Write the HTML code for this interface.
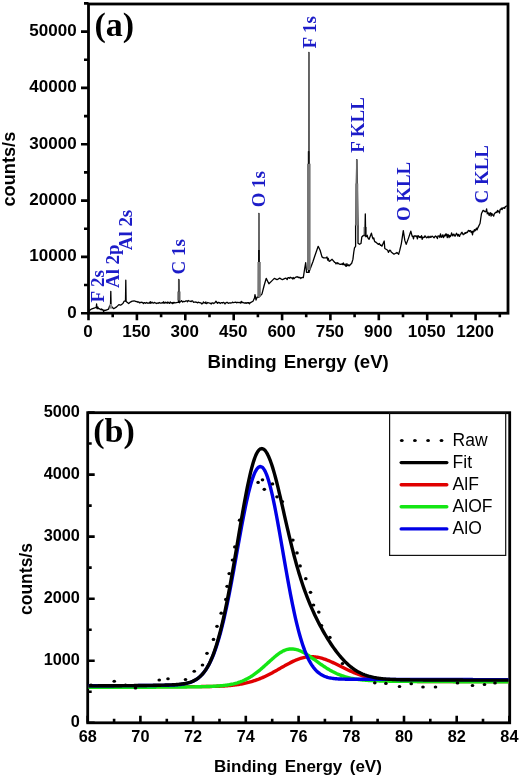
<!DOCTYPE html>
<html><head><meta charset="utf-8"><style>
html,body{margin:0;padding:0;background:#fff;}
svg{display:block;}
.ta{font-family:"Liberation Sans",Arial,sans-serif;font-weight:bold;font-size:17px;}
.tb{font-family:"Liberation Sans",Arial,sans-serif;font-weight:bold;font-size:16.3px;}
.tta{font-family:"Liberation Sans",Arial,sans-serif;font-weight:bold;font-size:18.6px;word-spacing:1.8px;}
.tta2{font-family:"Liberation Sans",Arial,sans-serif;font-weight:bold;font-size:18.2px;}
.ttb2{font-family:"Liberation Sans",Arial,sans-serif;font-weight:bold;font-size:17.5px;}
.ttb{font-family:"Liberation Sans",Arial,sans-serif;font-weight:bold;font-size:17px;word-spacing:2.7px;}
.lab{font-family:"Liberation Serif","Times New Roman",serif;font-weight:bold;font-size:34px;}
.pl{font-family:"Liberation Serif","Times New Roman",serif;font-weight:bold;font-size:18px;fill:#1c1cc8;}
.lg{font-family:"Liberation Sans",Arial,sans-serif;font-size:17.5px;}
</style></head><body>
<svg width="520" height="778" viewBox="0 0 520 778">
<rect x="88.5" y="4.0" width="419.5" height="309.2" fill="none" stroke="#000" stroke-width="2.8"/>
<path d="M81.0,313.2H88.5M84.0,285.0H88.5M81.0,256.9H88.5M84.0,228.7H88.5M81.0,200.6H88.5M84.0,172.4H88.5M81.0,144.2H88.5M84.0,116.1H88.5M81.0,87.9H88.5M84.0,59.8H88.5M81.0,31.6H88.5M84.0,3.4H88.5M88.5,313.2V320.2M112.7,313.2V317.2M136.9,313.2V320.2M161.1,313.2V317.2M185.3,313.2V320.2M209.5,313.2V317.2M233.7,313.2V320.2M257.9,313.2V317.2M282.1,313.2V320.2M306.2,313.2V317.2M330.4,313.2V320.2M354.6,313.2V317.2M378.8,313.2V320.2M403.0,313.2V317.2M427.2,313.2V320.2M451.4,313.2V317.2M475.6,313.2V320.2M499.8,313.2V317.2" stroke="#000" stroke-width="2.6" fill="none"/>
<text class="ta" x="76.6" y="317.5" text-anchor="end">0</text>
<text class="ta" x="76.6" y="261.2" text-anchor="end">10000</text>
<text class="ta" x="76.6" y="204.9" text-anchor="end">20000</text>
<text class="ta" x="76.6" y="148.5" text-anchor="end">30000</text>
<text class="ta" x="76.6" y="92.2" text-anchor="end">40000</text>
<text class="ta" x="76.6" y="35.9" text-anchor="end">50000</text>
<text class="ta" x="88.0" y="336.5" text-anchor="middle">0</text>
<text class="ta" x="136.4" y="336.5" text-anchor="middle">150</text>
<text class="ta" x="184.8" y="336.5" text-anchor="middle">300</text>
<text class="ta" x="233.2" y="336.5" text-anchor="middle">450</text>
<text class="ta" x="281.6" y="336.5" text-anchor="middle">600</text>
<text class="ta" x="329.9" y="336.5" text-anchor="middle">750</text>
<text class="ta" x="378.3" y="336.5" text-anchor="middle">900</text>
<text class="ta" x="426.7" y="336.5" text-anchor="middle">1050</text>
<text class="ta" x="475.1" y="336.5" text-anchor="middle">1200</text>
<text class="tta" x="207.5" y="368.2">Binding Energy (eV)</text>
<text class="tta2" transform="translate(15.2,206.5) rotate(-90)">counts/s</text>
<text class="lab" x="94.5" y="36.3">(a)</text>
<path d="M88.5,311.5 L89.5,310.4 L91.2,309.2 L94.1,308.1 L95.8,307.5 L96.2,307.5 L96.6,304.0 L96.9,307.5 L96.6,307.5 L97.2,308.7 L97.9,307.0 L98.5,308.7 L99.1,308.6 L99.7,308.9 L100.4,309.4 L101.0,309.8 L101.7,309.0 L102.3,309.9 L103.0,309.7 L103.6,311.6 L104.3,310.3 L104.9,310.2 L105.6,310.4 L108.5,309.2 L109.7,305.8 L110.5,305.8 L110.8,291.3 L111.1,305.8 L110.8,305.8 L113.7,308.7 L116.6,306.9 L118.9,304.6 L120.6,305.2 L122.9,303.5 L124.1,301.2 L125.5,301.2 L125.8,280.2 L126.1,301.2 L125.8,301.2 L128.7,303.5 L130.4,302.1 L132.2,301.2 L132.9,301.1 L133.6,301.0 L134.2,300.8 L134.9,301.2 L135.6,301.4 L136.3,301.7 L136.9,301.5 L137.6,302.2 L138.2,301.8 L138.9,302.1 L139.5,302.9 L140.2,302.3 L140.8,302.6 L141.5,302.2 L142.1,302.4 L142.8,302.8 L143.4,303.5 L144.1,302.6 L144.7,302.7 L145.4,303.3 L146.0,302.9 L146.6,302.5 L147.2,302.8 L147.8,303.3 L148.4,303.2 L149.0,302.9 L149.7,303.2 L150.3,301.6 L150.9,303.4 L151.5,302.5 L152.1,302.1 L152.7,303.0 L153.3,303.2 L153.9,302.7 L154.5,302.4 L155.1,302.9 L155.7,302.9 L156.3,303.5 L157.0,303.2 L157.6,303.0 L158.2,303.4 L158.8,302.8 L159.4,302.5 L160.0,302.9 L160.6,303.2 L161.2,303.2 L161.8,302.8 L162.4,302.5 L163.0,303.0 L163.6,301.8 L164.2,303.2 L164.8,303.1 L165.4,302.2 L166.0,302.9 L166.6,302.5 L167.2,303.2 L167.8,302.0 L168.4,302.5 L169.0,303.2 L169.6,303.4 L170.2,301.9 L170.8,302.7 L171.4,303.0 L172.0,302.6 L172.6,303.6 L173.2,302.4 L173.8,303.1 L174.4,302.4 L175.0,302.9 L177.8,302.3 L178.5,302.3 L178.8,279.5 L179.2,302.3 L178.8,302.3 L179.4,302.7 L180.1,301.9 L180.7,301.5 L181.4,300.6 L182.0,301.2 L182.6,302.0 L183.2,301.5 L183.8,301.5 L184.5,301.7 L185.1,301.4 L185.7,300.9 L186.3,300.8 L186.9,300.8 L187.5,301.8 L188.2,300.5 L188.8,300.9 L189.4,301.1 L190.0,301.2 L190.6,301.4 L191.2,301.7 L191.8,300.9 L192.5,300.8 L193.1,301.7 L193.7,302.3 L194.3,302.2 L194.9,302.1 L195.5,302.0 L196.2,302.3 L196.8,302.2 L197.4,302.8 L198.0,302.5 L198.6,302.2 L199.2,302.6 L199.8,302.6 L200.4,302.9 L201.0,302.8 L201.6,303.9 L202.2,303.4 L202.8,303.5 L203.4,301.9 L204.0,302.7 L204.6,302.6 L205.2,303.2 L205.8,301.9 L206.4,303.5 L207.0,303.5 L207.6,302.5 L208.2,302.7 L208.8,302.8 L209.4,303.2 L210.0,303.2 L210.6,303.4 L211.2,304.0 L211.9,302.9 L212.5,303.2 L213.1,302.9 L213.8,303.5 L214.4,303.0 L215.0,302.6 L216.0,301.2 L217.0,302.8 L217.6,303.4 L218.2,302.3 L218.9,302.7 L219.5,302.5 L220.1,303.5 L220.7,303.1 L221.3,302.7 L222.0,302.6 L222.6,303.1 L223.2,302.5 L223.8,302.4 L224.4,303.1 L225.0,304.0 L225.7,302.8 L226.3,302.6 L226.9,302.3 L227.5,302.3 L228.1,303.1 L228.8,303.3 L229.4,302.9 L230.0,302.9 L230.6,303.0 L231.2,302.9 L231.9,302.8 L232.5,302.1 L233.1,302.5 L233.8,302.7 L234.4,302.3 L235.0,302.4 L235.6,302.2 L236.2,302.4 L236.9,302.9 L237.5,302.3 L238.1,302.3 L238.8,302.7 L239.4,302.6 L240.0,302.3 L240.6,303.1 L241.2,301.4 L241.9,302.8 L242.5,302.2 L243.1,302.5 L243.8,302.9 L244.4,303.0 L245.0,303.1 L245.6,302.7 L246.2,303.4 L246.9,302.6 L247.5,302.7 L248.1,303.1 L248.8,302.6 L249.4,303.8 L250.0,302.9 L253.0,301.2 L254.5,298.0 L255.0,294.6 L256.0,300.0 L257.2,297.0 L258.5,297.0 L258.9,213.5 L259.2,297.0 L258.9,297.0 L261.5,294.6 L262.2,293.2 L264.0,286.0 L266.2,278.4 L268.9,283.8 L271.6,281.1 L274.3,278.4 L277.0,279.7 L279.7,278.1 L282.4,279.7 L285.1,278.4 L286.0,278.1 L286.6,278.8 L287.2,279.6 L287.8,277.9 L288.4,277.6 L289.0,277.9 L289.6,278.3 L290.2,277.2 L290.8,277.6 L291.4,278.0 L292.1,277.8 L292.7,279.0 L293.3,277.5 L294.0,278.8 L294.6,278.1 L295.2,277.5 L295.9,277.1 L296.6,277.1 L297.2,276.6 L297.9,277.4 L298.5,277.1 L299.1,277.9 L299.7,277.3 L300.3,277.7 L300.9,278.5 L301.5,277.6 L302.1,277.6 L302.7,277.3 L303.3,277.6 L304.7,268.5 L305.7,262.7 L306.5,272.3 L308.5,272.3 L308.9,52.4 L309.2,272.3 L308.9,272.3 L312.9,261.7 L314.8,256.0 L318.2,246.3 L320.1,250.2 L322.0,256.9 L323.5,257.9 L326.3,257.9 L327.0,257.0 L327.7,260.0 L328.3,258.3 L329.0,261.2 L329.7,261.3 L332.1,259.3 L334.8,262.5 L335.4,262.7 L336.0,263.9 L336.6,263.0 L337.2,262.6 L337.8,263.8 L338.4,263.2 L339.0,263.7 L339.6,264.1 L340.2,264.3 L340.8,264.2 L341.4,264.3 L342.1,263.8 L342.7,264.5 L343.3,262.9 L343.9,264.7 L344.5,265.0 L345.1,264.0 L345.7,266.2 L346.3,266.4 L346.9,263.7 L347.5,265.6 L348.1,265.5 L348.7,264.8 L349.3,265.8 L351.7,263.3 L352.9,259.4 L353.8,252.0 L354.5,247.8 L355.6,246.3 L355.6,225.5 L356.8,159.6 L358.0,225.5 L358.0,243.2 L359.5,244.3 L361.0,243.5 L361.8,237.0 L363.3,235.5 L364.9,235.5 L365.3,213.9 L365.7,235.5 L365.3,235.5 L365.9,236.8 L366.6,236.2 L367.2,235.3 L367.8,237.7 L368.5,238.5 L369.1,239.3 L371.4,233.2 L372.6,237.8 L373.2,238.8 L373.8,238.0 L374.5,241.1 L375.1,242.0 L375.7,242.0 L378.5,244.4 L379.2,243.5 L379.9,244.4 L380.5,245.4 L381.2,245.2 L381.9,246.2 L384.2,241.0 L384.8,248.5 L387.7,250.2 L388.4,252.4 L389.1,251.1 L389.8,250.1 L390.5,250.7 L391.2,251.9 L394.0,254.2 L396.9,252.5 L398.7,254.2 L399.8,250.2 L401.3,243.8 L403.3,230.6 L404.8,240.4 L406.2,244.4 L408.5,238.1 L410.8,231.2 L412.2,236.3 L412.8,236.1 L413.5,238.9 L414.1,235.8 L414.8,236.1 L415.4,235.8 L416.1,236.5 L416.8,236.0 L417.4,238.8 L418.1,235.6 L418.8,236.3 L419.5,237.4 L420.1,236.8 L420.8,237.6 L421.5,235.6 L422.2,239.3 L422.8,237.2 L423.5,237.5 L424.2,237.4 L424.8,236.0 L425.5,236.1 L426.1,237.5 L426.8,237.8 L427.4,237.4 L428.1,236.3 L428.8,237.8 L429.4,237.2 L430.1,236.3 L430.7,237.3 L431.4,237.0 L432.0,236.2 L432.7,236.3 L433.4,237.2 L434.1,237.9 L434.8,236.7 L435.5,236.0 L436.2,236.5 L436.8,237.3 L437.4,238.6 L438.0,236.0 L438.6,236.1 L439.2,236.0 L439.9,237.5 L440.5,233.8 L441.1,236.4 L441.7,237.3 L442.3,235.8 L442.9,234.8 L443.5,237.5 L444.2,236.3 L444.8,234.9 L445.4,235.8 L446.0,233.7 L446.6,234.8 L447.3,237.6 L447.9,234.3 L448.5,235.3 L449.1,237.6 L449.7,235.3 L450.3,236.6 L450.9,235.6 L451.6,232.9 L452.2,234.9 L452.8,235.9 L453.4,234.3 L454.0,234.1 L454.6,235.8 L455.2,236.1 L455.8,234.7 L456.5,233.3 L457.1,234.3 L457.7,236.0 L458.3,234.3 L458.9,235.8 L459.6,236.4 L460.2,234.4 L460.8,234.2 L461.4,232.7 L462.0,232.3 L462.6,233.7 L463.2,234.7 L463.9,233.8 L464.5,234.0 L465.1,232.6 L465.7,233.4 L466.3,232.3 L466.9,232.7 L467.5,232.2 L468.1,230.8 L468.8,230.4 L469.4,231.5 L470.0,230.6 L470.6,230.6 L471.2,232.5 L471.9,231.4 L472.5,234.8 L473.1,231.2 L473.8,231.9 L474.4,229.6 L475.1,230.8 L475.7,229.9 L476.4,228.2 L477.0,229.9 L477.7,228.1 L480.0,223.5 L481.5,213.5 L483.1,210.4 L485.4,211.9 L486.0,211.3 L486.6,208.9 L487.3,213.8 L487.9,212.4 L488.5,213.5 L489.2,215.5 L489.8,213.1 L490.5,212.7 L491.1,216.2 L491.8,213.3 L492.4,215.0 L493.1,215.0 L493.7,216.1 L494.3,213.9 L495.0,213.0 L495.6,212.6 L496.2,211.9 L496.9,212.6 L497.5,210.3 L498.2,211.6 L498.8,211.3 L499.5,213.1 L500.1,209.5 L500.8,209.6 L501.5,208.1 L502.1,209.6 L502.8,207.8 L503.4,208.2 L504.1,207.5 L504.7,208.3 L505.4,206.5 L507.0,205.8" fill="none" stroke="#000" stroke-width="1.3" stroke-linejoin="round"/>
<path d="M258.9,213.5V250" stroke="#6a6a6a" stroke-width="1.7"/>
<path d="M309.0,52.4V151.3" stroke="#6a6a6a" stroke-width="1.7"/>
<path d="M356.8,159.6V184.6" stroke="#6a6a6a" stroke-width="1.7"/>
<path d="M178.8,279.5V291.5" stroke="#4a4a4a" stroke-width="1.7"/>
<rect x="257.4" y="262" width="3.4" height="35.0" fill="#767676"/>
<rect x="258.2" y="250" width="1.6" height="12.0" fill="#111"/>
<rect x="307.0" y="163.7" width="3.6" height="106.3" fill="#767676"/>
<rect x="307.8" y="151.3" width="1.6" height="12.4" fill="#111"/>
<rect x="355.2" y="183.5" width="3.1" height="42.0" fill="#7a7a7a"/>
<rect x="363.6" y="227" width="0.9" height="8.5" fill="#555"/>
<rect x="365.9" y="227" width="0.9" height="8.0" fill="#555"/>
<rect x="177.4" y="291.5" width="3.1" height="9.0" fill="#5e5e5e"/>
<rect x="109.6" y="304" width="2.5" height="4.6" fill="#888"/>
<text class="pl" transform="translate(104.2,302.5) rotate(-90) scale(1.05,1)">F 2s</text>
<text class="pl" transform="translate(119.0,288) rotate(-90) scale(1.05,1)">Al 2p</text>
<text class="pl" transform="translate(132.2,250.2) rotate(-90) scale(1.05,1)">Al 2s</text>
<text class="pl" transform="translate(185.4,274.4) rotate(-90) scale(1.05,1)">C 1s</text>
<text class="pl" transform="translate(265.4,207.3) rotate(-90) scale(1.05,1)">O 1s</text>
<text class="pl" transform="translate(315.6,48.5) rotate(-90) scale(1.05,1)">F 1s</text>
<text class="pl" transform="translate(364,152.7) rotate(-90) scale(1.05,1)">F KLL</text>
<text class="pl" transform="translate(410.2,221.1) rotate(-90) scale(1.05,1)">O KLL</text>
<text class="pl" transform="translate(488.2,203.4) rotate(-90) scale(1.05,1)">C KLL</text>
<rect x="87.7" y="412.7" width="422.0" height="310.1" fill="none" stroke="#000" stroke-width="2.8"/>
<path d="M87.7,722.8h7M87.7,691.8h4M87.7,660.7h7M87.7,629.7h4M87.7,598.7h7M87.7,567.6h4M87.7,536.6h7M87.7,505.6h4M87.7,474.6h7M87.7,443.5h4M87.7,412.5h7M87.7,722.8v-7M114.1,722.8v-4M140.4,722.8v-7M166.8,722.8v-4M193.1,722.8v-7M219.5,722.8v-4M245.8,722.8v-7M272.2,722.8v-4M298.6,722.8v-7M324.9,722.8v-4M351.3,722.8v-7M377.6,722.8v-4M404.0,722.8v-7M430.3,722.8v-4M456.7,722.8v-7M483.0,722.8v-4M509.4,722.8v-7" stroke="#000" stroke-width="2.6" fill="none"/>
<text class="tb" x="79.9" y="726.9" text-anchor="end">0</text>
<text class="tb" x="79.9" y="664.9" text-anchor="end">1000</text>
<text class="tb" x="79.9" y="602.8" text-anchor="end">2000</text>
<text class="tb" x="79.9" y="540.8" text-anchor="end">3000</text>
<text class="tb" x="79.9" y="478.7" text-anchor="end">4000</text>
<text class="tb" x="79.9" y="416.6" text-anchor="end">5000</text>
<text class="tb" x="87.7" y="742.2" text-anchor="middle">68</text>
<text class="tb" x="140.4" y="742.2" text-anchor="middle">70</text>
<text class="tb" x="193.1" y="742.2" text-anchor="middle">72</text>
<text class="tb" x="245.8" y="742.2" text-anchor="middle">74</text>
<text class="tb" x="298.6" y="742.2" text-anchor="middle">76</text>
<text class="tb" x="351.3" y="742.2" text-anchor="middle">78</text>
<text class="tb" x="404.0" y="742.2" text-anchor="middle">80</text>
<text class="tb" x="456.7" y="742.2" text-anchor="middle">82</text>
<text class="tb" x="509.4" y="742.2" text-anchor="middle">84</text>
<text class="ttb" x="214.0" y="771.9">Binding Energy (eV)</text>
<text class="ttb2" transform="translate(31.5,615.0) rotate(-90)">counts/s</text>
<text class="lab" x="93.2" y="441.7">(b)</text>
<rect x="389.6" y="412.7" width="116.1" height="142.7" fill="none" stroke="#111" stroke-width="1.2"/>
<ellipse cx="401.8" cy="440.5" rx="1.9" ry="1.5" fill="#000"/>
<ellipse cx="414.9" cy="440.5" rx="1.9" ry="1.5" fill="#000"/>
<ellipse cx="428.1" cy="440.5" rx="1.9" ry="1.5" fill="#000"/>
<ellipse cx="441.5" cy="440.5" rx="1.9" ry="1.5" fill="#000"/>
<text class="lg" x="452.6" y="445.7">Raw</text>
<path d="M401.2,462.6H446.8" stroke="#000" stroke-width="3.4" stroke-linecap="round"/>
<text class="lg" x="452.6" y="467.8">Fit</text>
<path d="M401.2,484.7H446.8" stroke="#e00000" stroke-width="3.4" stroke-linecap="round"/>
<text class="lg" x="452.6" y="489.9">AlF</text>
<path d="M401.2,506.8H446.8" stroke="#14e614" stroke-width="3.4" stroke-linecap="round"/>
<text class="lg" x="452.6" y="512.0">AlOF</text>
<path d="M401.2,528.9H446.8" stroke="#0000e6" stroke-width="3.4" stroke-linecap="round"/>
<text class="lg" x="452.6" y="534.1">AlO</text>
<path d="M88.5,686.65 L89.5,686.65 L90.5,686.65 L91.5,686.65 L92.5,686.65 L93.5,686.65 L94.5,686.65 L95.5,686.65 L96.5,686.65 L97.5,686.65 L98.5,686.65 L99.5,686.65 L100.5,686.65 L101.5,686.65 L102.5,686.65 L103.5,686.65 L104.5,686.65 L105.5,686.65 L106.5,686.65 L107.5,686.65 L108.5,686.65 L109.5,686.65 L110.5,686.65 L111.5,686.65 L112.5,686.65 L113.5,686.65 L114.5,686.65 L115.5,686.65 L116.5,686.65 L117.5,686.65 L118.5,686.65 L119.5,686.65 L120.5,686.65 L121.5,686.65 L122.5,686.65 L123.5,686.65 L124.5,686.65 L125.5,686.65 L126.5,686.65 L127.5,686.65 L128.5,686.65 L129.5,686.65 L130.5,686.65 L131.5,686.65 L132.5,686.65 L133.5,686.65 L134.5,686.65 L135.5,686.65 L136.5,686.65 L137.5,686.65 L138.5,686.65 L139.5,686.65 L140.5,686.65 L141.5,686.65 L142.5,686.65 L143.5,686.65 L144.5,686.65 L145.5,686.65 L146.5,686.65 L147.5,686.65 L148.5,686.65 L149.5,686.65 L150.5,686.65 L151.5,686.65 L152.5,686.65 L153.5,686.65 L154.5,686.65 L155.5,686.65 L156.5,686.65 L157.5,686.65 L158.5,686.65 L159.5,686.65 L160.5,686.65 L161.5,686.65 L162.5,686.65 L163.5,686.65 L164.5,686.65 L165.5,686.65 L166.5,686.65 L167.5,686.65 L168.5,686.65 L169.5,686.65 L170.5,686.65 L171.5,686.65 L172.5,686.65 L173.5,686.64 L174.5,686.64 L175.5,686.64 L176.5,686.64 L177.5,686.64 L178.5,686.64 L179.5,686.64 L180.5,686.64 L181.5,686.64 L182.5,686.64 L183.5,686.64 L184.5,686.64 L185.5,686.64 L186.5,686.63 L187.5,686.63 L188.5,686.63 L189.5,686.63 L190.5,686.63 L191.5,686.62 L192.5,686.62 L193.5,686.62 L194.5,686.61 L195.5,686.61 L196.5,686.60 L197.5,686.60 L198.5,686.59 L199.5,686.59 L200.5,686.58 L201.5,686.57 L202.5,686.56 L203.5,686.55 L204.5,686.54 L205.5,686.53 L206.5,686.52 L207.5,686.50 L208.5,686.49 L209.5,686.47 L210.5,686.45 L211.5,686.43 L212.5,686.41 L213.5,686.38 L214.5,686.36 L215.5,686.33 L216.5,686.30 L217.5,686.26 L218.5,686.22 L219.5,686.18 L220.5,686.14 L221.5,686.09 L222.5,686.04 L223.5,685.99 L224.5,685.93 L225.5,685.86 L226.5,685.79 L227.5,685.72 L228.5,685.64 L229.5,685.56 L230.5,685.47 L231.5,685.37 L232.5,685.26 L233.5,685.15 L234.5,685.04 L235.5,684.91 L236.5,684.78 L237.5,684.63 L238.5,684.48 L239.5,684.33 L240.5,684.16 L241.5,683.98 L242.5,683.79 L243.5,683.59 L244.5,683.38 L245.5,683.16 L246.5,682.93 L247.5,682.69 L248.5,682.44 L249.5,682.17 L250.5,681.89 L251.5,681.60 L252.5,681.30 L253.5,680.98 L254.5,680.66 L255.5,680.32 L256.5,679.96 L257.5,679.60 L258.5,679.22 L259.5,678.82 L260.5,678.42 L261.5,678.00 L262.5,677.57 L263.5,677.13 L264.5,676.67 L265.5,676.21 L266.5,675.73 L267.5,675.24 L268.5,674.74 L269.5,674.23 L270.5,673.71 L271.5,673.18 L272.5,672.65 L273.5,672.10 L274.5,671.55 L275.5,671.00 L276.5,670.43 L277.5,669.87 L278.5,669.30 L279.5,668.73 L280.5,668.15 L281.5,667.58 L282.5,667.01 L283.5,666.44 L284.5,665.87 L285.5,665.31 L286.5,664.76 L287.5,664.21 L288.5,663.67 L289.5,663.14 L290.5,662.63 L291.5,662.12 L292.5,661.63 L293.5,661.16 L294.5,660.71 L295.5,660.27 L296.5,659.85 L297.5,659.46 L298.5,659.09 L299.5,658.74 L300.5,658.41 L301.5,658.12 L302.5,657.84 L303.5,657.60 L304.5,657.38 L305.5,657.19 L306.5,657.03 L307.5,656.90 L308.5,656.80 L309.5,656.73 L310.5,656.69 L311.5,656.68 L312.5,656.71 L313.5,656.76 L314.5,656.84 L315.5,656.95 L316.5,657.08 L317.5,657.25 L318.5,657.44 L319.5,657.66 L320.5,657.90 L321.5,658.17 L322.5,658.46 L323.5,658.77 L324.5,659.11 L325.5,659.46 L326.5,659.83 L327.5,660.22 L328.5,660.63 L329.5,661.05 L330.5,661.48 L331.5,661.93 L332.5,662.39 L333.5,662.85 L334.5,663.33 L335.5,663.81 L336.5,664.30 L337.5,664.79 L338.5,665.28 L339.5,665.78 L340.5,666.28 L341.5,666.78 L342.5,667.28 L343.5,667.77 L344.5,668.26 L345.5,668.75 L346.5,669.24 L347.5,669.71 L348.5,670.18 L349.5,670.65 L350.5,671.10 L351.5,671.55 L352.5,671.98 L353.5,672.41 L354.5,672.83 L355.5,673.24 L356.5,673.63 L357.5,674.02 L358.5,674.39 L359.5,674.75 L360.5,675.10 L361.5,675.44 L362.5,675.77 L363.5,676.08 L364.5,676.38 L365.5,676.68 L366.5,676.95 L367.5,677.22 L368.5,677.48 L369.5,677.72 L370.5,677.95 L371.5,678.18 L372.5,678.39 L373.5,678.59 L374.5,678.78 L375.5,678.96 L376.5,679.13 L377.5,679.29 L378.5,679.44 L379.5,679.59 L380.5,679.72 L381.5,679.85 L382.5,679.97 L383.5,680.08 L384.5,680.19 L385.5,680.29 L386.5,680.38 L387.5,680.47 L388.5,680.55 L389.5,680.62 L390.5,680.69 L391.5,680.76 L392.5,680.82 L393.5,680.87 L394.5,680.93 L395.5,680.97 L396.5,681.02 L397.5,681.06 L398.5,681.10 L399.5,681.13 L400.5,681.16 L401.5,681.19 L402.5,681.22 L403.5,681.24 L404.5,681.27 L405.5,681.29 L406.5,681.30 L407.5,681.32 L408.5,681.34 L409.5,681.35 L410.5,681.36 L411.5,681.38 L412.5,681.39 L413.5,681.40 L414.5,681.41 L415.5,681.41 L416.5,681.42 L417.5,681.43 L418.5,681.43 L419.5,681.44 L420.5,681.44 L421.5,681.45 L422.5,681.45 L423.5,681.45 L424.5,681.46 L425.5,681.46 L426.5,681.46 L427.5,681.46 L428.5,681.47 L429.5,681.47 L430.5,681.47 L431.5,681.47 L432.5,681.47 L433.5,681.47 L434.5,681.47 L435.5,681.47 L436.5,681.48 L437.5,681.48 L438.5,681.48 L439.5,681.48 L440.5,681.48 L441.5,681.48 L442.5,681.48 L443.5,681.48 L444.5,681.48 L445.5,681.48 L446.5,681.48 L447.5,681.48 L448.5,681.48 L449.5,681.48 L450.5,681.48 L451.5,681.48 L452.5,681.48 L453.5,681.48 L454.5,681.48 L455.5,681.48 L456.5,681.48 L457.5,681.48 L458.5,681.48 L459.5,681.48 L460.5,681.48 L461.5,681.48 L462.5,681.48 L463.5,681.48 L464.5,681.48 L465.5,681.48 L466.5,681.48 L467.5,681.48 L468.5,681.48 L469.5,681.48 L470.5,681.48 L471.5,681.48 L472.5,681.48 L473.5,681.48 L474.5,681.48 L475.5,681.48 L476.5,681.48 L477.5,681.48 L478.5,681.48 L479.5,681.48 L480.5,681.48 L481.5,681.48 L482.5,681.48 L483.5,681.48 L484.5,681.48 L485.5,681.48 L486.5,681.48 L487.5,681.48 L488.5,681.48 L489.5,681.48 L490.5,681.48 L491.5,681.48 L492.5,681.48 L493.5,681.48 L494.5,681.48 L495.5,681.48 L496.5,681.48 L497.5,681.48 L498.5,681.48 L499.5,681.48 L500.5,681.48 L501.5,681.48 L502.5,681.48 L503.5,681.48 L504.5,681.48 L505.5,681.48 L506.5,681.48 L507.5,681.48 L508.5,681.48" fill="none" stroke="#e00000" stroke-width="3.4" stroke-linejoin="round"/>
<path d="M88.5,687.38 L89.5,687.38 L90.5,687.38 L91.5,687.37 L92.5,687.37 L93.5,687.37 L94.5,687.37 L95.5,687.37 L96.5,687.36 L97.5,687.36 L98.5,687.36 L99.5,687.36 L100.5,687.36 L101.5,687.36 L102.5,687.35 L103.5,687.35 L104.5,687.35 L105.5,687.35 L106.5,687.34 L107.5,687.34 L108.5,687.34 L109.5,687.34 L110.5,687.34 L111.5,687.33 L112.5,687.33 L113.5,687.33 L114.5,687.33 L115.5,687.32 L116.5,687.32 L117.5,687.32 L118.5,687.32 L119.5,687.31 L120.5,687.31 L121.5,687.31 L122.5,687.31 L123.5,687.30 L124.5,687.30 L125.5,687.30 L126.5,687.29 L127.5,687.29 L128.5,687.29 L129.5,687.28 L130.5,687.28 L131.5,687.28 L132.5,687.27 L133.5,687.27 L134.5,687.27 L135.5,687.26 L136.5,687.26 L137.5,687.26 L138.5,687.25 L139.5,687.25 L140.5,687.25 L141.5,687.24 L142.5,687.24 L143.5,687.23 L144.5,687.23 L145.5,687.22 L146.5,687.22 L147.5,687.22 L148.5,687.21 L149.5,687.21 L150.5,687.20 L151.5,687.20 L152.5,687.19 L153.5,687.19 L154.5,687.18 L155.5,687.18 L156.5,687.17 L157.5,687.17 L158.5,687.16 L159.5,687.15 L160.5,687.15 L161.5,687.14 L162.5,687.14 L163.5,687.13 L164.5,687.12 L165.5,687.12 L166.5,687.11 L167.5,687.10 L168.5,687.10 L169.5,687.09 L170.5,687.08 L171.5,687.08 L172.5,687.07 L173.5,687.06 L174.5,687.05 L175.5,687.04 L176.5,687.03 L177.5,687.03 L178.5,687.02 L179.5,687.01 L180.5,687.00 L181.5,686.99 L182.5,686.98 L183.5,686.97 L184.5,686.96 L185.5,686.95 L186.5,686.93 L187.5,686.92 L188.5,686.91 L189.5,686.90 L190.5,686.88 L191.5,686.87 L192.5,686.86 L193.5,686.84 L194.5,686.83 L195.5,686.81 L196.5,686.79 L197.5,686.78 L198.5,686.76 L199.5,686.74 L200.5,686.72 L201.5,686.69 L202.5,686.67 L203.5,686.65 L204.5,686.62 L205.5,686.59 L206.5,686.56 L207.5,686.53 L208.5,686.50 L209.5,686.46 L210.5,686.42 L211.5,686.38 L212.5,686.33 L213.5,686.28 L214.5,686.23 L215.5,686.17 L216.5,686.11 L217.5,686.05 L218.5,685.97 L219.5,685.90 L220.5,685.81 L221.5,685.72 L222.5,685.62 L223.5,685.51 L224.5,685.40 L225.5,685.27 L226.5,685.14 L227.5,684.99 L228.5,684.83 L229.5,684.66 L230.5,684.48 L231.5,684.28 L232.5,684.07 L233.5,683.85 L234.5,683.60 L235.5,683.34 L236.5,683.06 L237.5,682.77 L238.5,682.45 L239.5,682.11 L240.5,681.75 L241.5,681.37 L242.5,680.97 L243.5,680.54 L244.5,680.09 L245.5,679.61 L246.5,679.11 L247.5,678.59 L248.5,678.04 L249.5,677.46 L250.5,676.86 L251.5,676.23 L252.5,675.58 L253.5,674.90 L254.5,674.20 L255.5,673.47 L256.5,672.72 L257.5,671.94 L258.5,671.15 L259.5,670.33 L260.5,669.50 L261.5,668.65 L262.5,667.78 L263.5,666.90 L264.5,666.01 L265.5,665.11 L266.5,664.21 L267.5,663.29 L268.5,662.38 L269.5,661.47 L270.5,660.56 L271.5,659.67 L272.5,658.78 L273.5,657.91 L274.5,657.05 L275.5,656.22 L276.5,655.42 L277.5,654.64 L278.5,653.90 L279.5,653.20 L280.5,652.54 L281.5,651.93 L282.5,651.36 L283.5,650.85 L284.5,650.40 L285.5,650.00 L286.5,649.67 L287.5,649.40 L288.5,649.19 L289.5,649.06 L290.5,648.98 L291.5,648.95 L292.5,648.98 L293.5,649.06 L294.5,649.20 L295.5,649.38 L296.5,649.62 L297.5,649.90 L298.5,650.23 L299.5,650.60 L300.5,651.02 L301.5,651.47 L302.5,651.96 L303.5,652.49 L304.5,653.04 L305.5,653.63 L306.5,654.24 L307.5,654.87 L308.5,655.52 L309.5,656.19 L310.5,656.88 L311.5,657.58 L312.5,658.29 L313.5,659.00 L314.5,659.72 L315.5,660.45 L316.5,661.17 L317.5,661.89 L318.5,662.61 L319.5,663.33 L320.5,664.04 L321.5,664.74 L322.5,665.43 L323.5,666.11 L324.5,666.77 L325.5,667.43 L326.5,668.07 L327.5,668.69 L328.5,669.30 L329.5,669.89 L330.5,670.46 L331.5,671.02 L332.5,671.56 L333.5,672.07 L334.5,672.57 L335.5,673.05 L336.5,673.52 L337.5,673.96 L338.5,674.38 L339.5,674.79 L340.5,675.18 L341.5,675.55 L342.5,675.90 L343.5,676.23 L344.5,676.55 L345.5,676.85 L346.5,677.13 L347.5,677.40 L348.5,677.66 L349.5,677.90 L350.5,678.12 L351.5,678.34 L352.5,678.53 L353.5,678.72 L354.5,678.90 L355.5,679.06 L356.5,679.22 L357.5,679.36 L358.5,679.50 L359.5,679.63 L360.5,679.74 L361.5,679.85 L362.5,679.96 L363.5,680.05 L364.5,680.14 L365.5,680.22 L366.5,680.30 L367.5,680.37 L368.5,680.44 L369.5,680.50 L370.5,680.56 L371.5,680.62 L372.5,680.67 L373.5,680.72 L374.5,680.76 L375.5,680.80 L376.5,680.84 L377.5,680.88 L378.5,680.91 L379.5,680.94 L380.5,680.97 L381.5,681.00 L382.5,681.03 L383.5,681.05 L384.5,681.08 L385.5,681.10 L386.5,681.12 L387.5,681.14 L388.5,681.16 L389.5,681.18 L390.5,681.20 L391.5,681.21 L392.5,681.23 L393.5,681.24 L394.5,681.26 L395.5,681.27 L396.5,681.29 L397.5,681.30 L398.5,681.31 L399.5,681.32 L400.5,681.33 L401.5,681.35 L402.5,681.36 L403.5,681.37 L404.5,681.38 L405.5,681.39 L406.5,681.40 L407.5,681.41 L408.5,681.42 L409.5,681.43 L410.5,681.43 L411.5,681.44 L412.5,681.45 L413.5,681.46 L414.5,681.47 L415.5,681.47 L416.5,681.48 L417.5,681.49 L418.5,681.50 L419.5,681.50 L420.5,681.51 L421.5,681.52 L422.5,681.52 L423.5,681.53 L424.5,681.54 L425.5,681.54 L426.5,681.55 L427.5,681.56 L428.5,681.56 L429.5,681.57 L430.5,681.57 L431.5,681.58 L432.5,681.58 L433.5,681.59 L434.5,681.59 L435.5,681.60 L436.5,681.60 L437.5,681.61 L438.5,681.61 L439.5,681.62 L440.5,681.62 L441.5,681.63 L442.5,681.63 L443.5,681.64 L444.5,681.64 L445.5,681.65 L446.5,681.65 L447.5,681.65 L448.5,681.66 L449.5,681.66 L450.5,681.67 L451.5,681.67 L452.5,681.67 L453.5,681.68 L454.5,681.68 L455.5,681.68 L456.5,681.69 L457.5,681.69 L458.5,681.69 L459.5,681.70 L460.5,681.70 L461.5,681.70 L462.5,681.71 L463.5,681.71 L464.5,681.71 L465.5,681.72 L466.5,681.72 L467.5,681.72 L468.5,681.72 L469.5,681.73 L470.5,681.73 L471.5,681.73 L472.5,681.74 L473.5,681.74 L474.5,681.74 L475.5,681.74 L476.5,681.75 L477.5,681.75 L478.5,681.75 L479.5,681.75 L480.5,681.76 L481.5,681.76 L482.5,681.76 L483.5,681.76 L484.5,681.76 L485.5,681.77 L486.5,681.77 L487.5,681.77 L488.5,681.77 L489.5,681.77 L490.5,681.78 L491.5,681.78 L492.5,681.78 L493.5,681.78 L494.5,681.78 L495.5,681.79 L496.5,681.79 L497.5,681.79 L498.5,681.79 L499.5,681.79 L500.5,681.80 L501.5,681.80 L502.5,681.80 L503.5,681.80 L504.5,681.80 L505.5,681.80 L506.5,681.81 L507.5,681.81 L508.5,681.81" fill="none" stroke="#14e614" stroke-width="3.4" stroke-linejoin="round"/>
<path d="M88.5,685.74 L89.5,685.74 L90.5,685.74 L91.5,685.74 L92.5,685.73 L93.5,685.73 L94.5,685.73 L95.5,685.73 L96.5,685.73 L97.5,685.72 L98.5,685.72 L99.5,685.72 L100.5,685.72 L101.5,685.71 L102.5,685.71 L103.5,685.71 L104.5,685.71 L105.5,685.70 L106.5,685.70 L107.5,685.70 L108.5,685.69 L109.5,685.69 L110.5,685.69 L111.5,685.68 L112.5,685.68 L113.5,685.68 L114.5,685.67 L115.5,685.67 L116.5,685.67 L117.5,685.66 L118.5,685.66 L119.5,685.66 L120.5,685.65 L121.5,685.65 L122.5,685.65 L123.5,685.64 L124.5,685.64 L125.5,685.63 L126.5,685.63 L127.5,685.63 L128.5,685.62 L129.5,685.62 L130.5,685.61 L131.5,685.61 L132.5,685.60 L133.5,685.60 L134.5,685.59 L135.5,685.59 L136.5,685.58 L137.5,685.58 L138.5,685.57 L139.5,685.56 L140.5,685.56 L141.5,685.55 L142.5,685.55 L143.5,685.54 L144.5,685.53 L145.5,685.53 L146.5,685.52 L147.5,685.51 L148.5,685.51 L149.5,685.50 L150.5,685.49 L151.5,685.48 L152.5,685.47 L153.5,685.46 L154.5,685.45 L155.5,685.44 L156.5,685.43 L157.5,685.42 L158.5,685.41 L159.5,685.40 L160.5,685.38 L161.5,685.37 L162.5,685.35 L163.5,685.33 L164.5,685.31 L165.5,685.29 L166.5,685.27 L167.5,685.24 L168.5,685.21 L169.5,685.18 L170.5,685.15 L171.5,685.11 L172.5,685.06 L173.5,685.01 L174.5,684.96 L175.5,684.90 L176.5,684.83 L177.5,684.75 L178.5,684.66 L179.5,684.57 L180.5,684.46 L181.5,684.33 L182.5,684.19 L183.5,684.04 L184.5,683.86 L185.5,683.67 L186.5,683.45 L187.5,683.20 L188.5,682.93 L189.5,682.63 L190.5,682.29 L191.5,681.91 L192.5,681.49 L193.5,681.03 L194.5,680.52 L195.5,679.95 L196.5,679.33 L197.5,678.64 L198.5,677.88 L199.5,677.06 L200.5,676.15 L201.5,675.16 L202.5,674.08 L203.5,672.90 L204.5,671.62 L205.5,670.23 L206.5,668.73 L207.5,667.11 L208.5,665.37 L209.5,663.49 L210.5,661.47 L211.5,659.31 L212.5,657.00 L213.5,654.54 L214.5,651.91 L215.5,649.13 L216.5,646.18 L217.5,643.06 L218.5,639.77 L219.5,636.31 L220.5,632.68 L221.5,628.87 L222.5,624.89 L223.5,620.74 L224.5,616.43 L225.5,611.96 L226.5,607.33 L227.5,602.55 L228.5,597.63 L229.5,592.59 L230.5,587.42 L231.5,582.14 L232.5,576.78 L233.5,571.33 L234.5,565.82 L235.5,560.26 L236.5,554.67 L237.5,549.07 L238.5,543.49 L239.5,537.93 L240.5,532.43 L241.5,527.00 L242.5,521.66 L243.5,516.45 L244.5,511.38 L245.5,506.48 L246.5,501.76 L247.5,497.26 L248.5,492.98 L249.5,488.97 L250.5,485.23 L251.5,481.78 L252.5,478.65 L253.5,475.84 L254.5,473.39 L255.5,471.29 L256.5,469.56 L257.5,468.22 L258.5,467.26 L259.5,466.70 L260.5,466.53 L261.5,466.78 L262.5,467.47 L263.5,468.58 L264.5,470.12 L265.5,472.07 L266.5,474.41 L267.5,477.14 L268.5,480.24 L269.5,483.68 L270.5,487.46 L271.5,491.54 L272.5,495.91 L273.5,500.53 L274.5,505.39 L275.5,510.46 L276.5,515.70 L277.5,521.11 L278.5,526.64 L279.5,532.28 L280.5,537.99 L281.5,543.76 L282.5,549.56 L283.5,555.35 L284.5,561.13 L285.5,566.87 L286.5,572.55 L287.5,578.15 L288.5,583.66 L289.5,589.05 L290.5,594.31 L291.5,599.43 L292.5,604.40 L293.5,609.20 L294.5,613.84 L295.5,618.30 L296.5,622.57 L297.5,626.66 L298.5,630.56 L299.5,634.26 L300.5,637.77 L301.5,641.09 L302.5,644.23 L303.5,647.17 L304.5,649.93 L305.5,652.51 L306.5,654.92 L307.5,657.17 L308.5,659.25 L309.5,661.17 L310.5,662.95 L311.5,664.58 L312.5,666.08 L313.5,667.46 L314.5,668.72 L315.5,669.86 L316.5,670.90 L317.5,671.84 L318.5,672.69 L319.5,673.46 L320.5,674.15 L321.5,674.77 L322.5,675.33 L323.5,675.82 L324.5,676.26 L325.5,676.65 L326.5,677.00 L327.5,677.30 L328.5,677.57 L329.5,677.80 L330.5,678.01 L331.5,678.19 L332.5,678.35 L333.5,678.48 L334.5,678.60 L335.5,678.70 L336.5,678.79 L337.5,678.87 L338.5,678.93 L339.5,678.99 L340.5,679.03 L341.5,679.07 L342.5,679.11 L343.5,679.14 L344.5,679.16 L345.5,679.18 L346.5,679.20 L347.5,679.21 L348.5,679.22 L349.5,679.23 L350.5,679.24 L351.5,679.25 L352.5,679.26 L353.5,679.26 L354.5,679.27 L355.5,679.27 L356.5,679.28 L357.5,679.28 L358.5,679.29 L359.5,679.29 L360.5,679.29 L361.5,679.30 L362.5,679.30 L363.5,679.30 L364.5,679.31 L365.5,679.31 L366.5,679.31 L367.5,679.32 L368.5,679.32 L369.5,679.32 L370.5,679.33 L371.5,679.33 L372.5,679.34 L373.5,679.34 L374.5,679.34 L375.5,679.35 L376.5,679.35 L377.5,679.35 L378.5,679.36 L379.5,679.36 L380.5,679.37 L381.5,679.37 L382.5,679.37 L383.5,679.38 L384.5,679.38 L385.5,679.39 L386.5,679.39 L387.5,679.39 L388.5,679.40 L389.5,679.40 L390.5,679.40 L391.5,679.41 L392.5,679.41 L393.5,679.41 L394.5,679.42 L395.5,679.42 L396.5,679.43 L397.5,679.43 L398.5,679.43 L399.5,679.43 L400.5,679.44 L401.5,679.44 L402.5,679.44 L403.5,679.45 L404.5,679.45 L405.5,679.45 L406.5,679.46 L407.5,679.46 L408.5,679.46 L409.5,679.46 L410.5,679.47 L411.5,679.47 L412.5,679.47 L413.5,679.48 L414.5,679.48 L415.5,679.48 L416.5,679.48 L417.5,679.49 L418.5,679.49 L419.5,679.49 L420.5,679.49 L421.5,679.49 L422.5,679.50 L423.5,679.50 L424.5,679.50 L425.5,679.50 L426.5,679.51 L427.5,679.51 L428.5,679.51 L429.5,679.51 L430.5,679.51 L431.5,679.52 L432.5,679.52 L433.5,679.52 L434.5,679.52 L435.5,679.52 L436.5,679.52 L437.5,679.53 L438.5,679.53 L439.5,679.53 L440.5,679.53 L441.5,679.53 L442.5,679.54 L443.5,679.54 L444.5,679.54 L445.5,679.54 L446.5,679.54 L447.5,679.54 L448.5,679.54 L449.5,679.55 L450.5,679.55 L451.5,679.55 L452.5,679.55 L453.5,679.55 L454.5,679.55 L455.5,679.55 L456.5,679.56 L457.5,679.56 L458.5,679.56 L459.5,679.56 L460.5,679.56 L461.5,679.56 L462.5,679.56 L463.5,679.56 L464.5,679.57 L465.5,679.57 L466.5,679.57 L467.5,679.57 L468.5,679.57 L469.5,679.57 L470.5,679.57 L471.5,679.57 L472.5,679.57 L473.5,679.58 L474.5,679.58 L475.5,679.58 L476.5,679.58 L477.5,679.58 L478.5,679.58 L479.5,679.58 L480.5,679.58 L481.5,679.58 L482.5,679.58 L483.5,679.58 L484.5,679.59 L485.5,679.59 L486.5,679.59 L487.5,679.59 L488.5,679.59 L489.5,679.59 L490.5,679.59 L491.5,679.59 L492.5,679.59 L493.5,679.59 L494.5,679.59 L495.5,679.59 L496.5,679.60 L497.5,679.60 L498.5,679.60 L499.5,679.60 L500.5,679.60 L501.5,679.60 L502.5,679.60 L503.5,679.60 L504.5,679.60 L505.5,679.60 L506.5,679.60 L507.5,679.60 L508.5,679.60" fill="none" stroke="#0000e6" stroke-width="3.4" stroke-linejoin="round"/>
<path d="M88.50,685.87 L89.50,685.86 L90.50,685.86 L91.50,685.85 L92.50,685.85 L93.50,685.84 L94.50,685.84 L95.50,685.84 L96.50,685.83 L97.50,685.83 L98.50,685.82 L99.50,685.82 L100.50,685.81 L101.50,685.81 L102.50,685.80 L103.50,685.80 L104.50,685.79 L105.50,685.79 L106.50,685.78 L107.50,685.77 L108.50,685.77 L109.50,685.76 L110.50,685.76 L111.50,685.75 L112.50,685.74 L113.50,685.74 L114.50,685.73 L115.50,685.72 L116.50,685.72 L117.50,685.71 L118.50,685.70 L119.50,685.70 L120.50,685.69 L121.50,685.68 L122.50,685.67 L123.50,685.67 L124.50,685.66 L125.50,685.65 L126.50,685.64 L127.50,685.63 L128.50,685.63 L129.50,685.62 L130.50,685.61 L131.50,685.60 L132.50,685.59 L133.50,685.58 L134.50,685.57 L135.50,685.56 L136.50,685.55 L137.50,685.54 L138.50,685.53 L139.50,685.52 L140.50,685.50 L141.50,685.49 L142.50,685.48 L143.50,685.47 L144.50,685.46 L145.50,685.44 L146.50,685.43 L147.50,685.42 L148.50,685.40 L149.50,685.39 L150.50,685.37 L151.50,685.36 L152.50,685.34 L153.50,685.32 L154.50,685.31 L155.50,685.29 L156.50,685.27 L157.50,685.25 L158.50,685.23 L159.50,685.21 L160.50,685.19 L161.50,685.17 L162.50,685.14 L163.50,685.12 L164.50,685.09 L165.50,685.06 L166.50,685.03 L167.50,685.00 L168.50,684.96 L169.50,684.92 L170.50,684.88 L171.50,684.84 L172.50,684.79 L173.50,684.74 L174.50,684.68 L175.50,684.61 L176.50,684.54 L177.50,684.46 L178.50,684.38 L179.50,684.28 L180.50,684.17 L181.50,684.05 L182.50,683.92 L183.50,683.77 L184.50,683.60 L185.50,683.41 L186.50,683.20 L187.50,682.97 L188.50,682.71 L189.50,682.42 L190.50,682.09 L191.50,681.73 L192.50,681.33 L193.50,680.88 L194.50,680.38 L195.50,679.83 L196.50,679.22 L197.50,678.55 L198.50,677.81 L199.50,676.99 L200.50,676.08 L201.50,675.09 L202.50,674.01 L203.50,672.82 L204.50,671.53 L205.50,670.11 L206.50,668.58 L207.50,666.91 L208.50,665.11 L209.50,663.16 L210.50,661.06 L211.50,658.80 L212.50,656.38 L213.50,653.78 L214.50,651.01 L215.50,648.05 L216.50,644.91 L217.50,641.58 L218.51,638.05 L219.54,634.32 L220.56,630.40 L221.59,626.28 L222.62,621.97 L223.65,617.45 L224.68,612.75 L225.71,607.87 L226.74,602.80 L227.77,597.56 L228.81,592.16 L229.85,586.61 L230.88,580.92 L231.92,575.11 L232.96,569.18 L234.00,563.17 L235.04,557.08 L236.08,550.93 L237.12,544.75 L238.16,538.56 L239.20,532.38 L240.24,526.24 L241.28,520.16 L242.31,514.17 L243.35,508.28 L244.39,502.54 L245.43,496.96 L246.46,491.58 L247.49,486.41 L248.53,481.49 L249.56,476.83 L250.58,472.47 L251.60,468.42 L252.60,464.71 L253.60,461.35 L254.60,458.36 L255.60,455.76 L256.60,453.56 L257.60,451.77 L258.60,450.39 L259.60,449.41 L260.60,448.81 L261.60,448.57 L262.60,448.70 L263.60,449.17 L264.60,449.99 L265.60,451.14 L266.60,452.62 L267.60,454.41 L268.60,456.48 L269.60,458.84 L270.60,461.46 L271.60,464.31 L272.60,467.39 L273.60,470.68 L274.57,474.14 L275.55,477.78 L276.53,481.55 L277.50,485.46 L278.47,489.47 L279.45,493.56 L280.42,497.73 L281.39,501.95 L282.37,506.21 L283.34,510.49 L284.31,514.78 L285.28,519.05 L286.26,523.31 L287.23,527.54 L288.20,531.72 L289.17,535.85 L290.15,539.92 L291.12,543.92 L292.10,547.85 L293.07,551.69 L294.05,555.46 L295.02,559.13 L296.00,562.71 L296.98,566.20 L297.96,569.60 L298.93,572.91 L299.91,576.12 L300.89,579.24 L301.87,582.27 L302.85,585.21 L303.84,588.07 L304.82,590.84 L305.80,593.54 L306.78,596.15 L307.77,598.69 L308.75,601.17 L309.74,603.57 L310.72,605.91 L311.71,608.19 L312.69,610.42 L313.68,612.58 L314.66,614.70 L315.65,616.77 L316.64,618.79 L317.62,620.77 L318.61,622.71 L319.60,624.61 L320.59,626.47 L321.58,628.30 L322.56,630.09 L323.55,631.84 L324.54,633.56 L325.53,635.25 L326.52,636.91 L327.51,638.53 L328.50,640.13 L329.50,641.69 L330.50,643.22 L331.50,644.71 L332.50,646.18 L333.50,647.61 L334.50,649.01 L335.50,650.37 L336.50,651.70 L337.50,653.00 L338.50,654.26 L339.50,655.49 L340.50,656.68 L341.50,657.84 L342.50,658.95 L343.50,660.04 L344.50,661.08 L345.50,662.09 L346.50,663.07 L347.50,664.00 L348.50,664.90 L349.50,665.77 L350.50,666.60 L351.50,667.39 L352.50,668.15 L353.50,668.87 L354.50,669.56 L355.50,670.22 L356.50,670.84 L357.50,671.44 L358.50,672.00 L359.50,672.53 L360.50,673.04 L361.50,673.51 L362.50,673.96 L363.50,674.38 L364.50,674.78 L365.50,675.15 L366.50,675.50 L367.50,675.83 L368.50,676.14 L369.50,676.42 L370.50,676.69 L371.50,676.94 L372.50,677.17 L373.50,677.39 L374.50,677.59 L375.50,677.78 L376.50,677.95 L377.50,678.11 L378.50,678.25 L379.50,678.39 L380.50,678.52 L381.50,678.63 L382.50,678.74 L383.50,678.84 L384.50,678.93 L385.50,679.01 L386.50,679.09 L387.50,679.16 L388.50,679.22 L389.50,679.28 L390.50,679.34 L391.50,679.38 L392.50,679.43 L393.50,679.47 L394.50,679.51 L395.50,679.54 L396.50,679.58 L397.50,679.61 L398.50,679.63 L399.50,679.66 L400.50,679.68 L401.50,679.70 L402.50,679.72 L403.50,679.74 L404.50,679.76 L405.50,679.77 L406.50,679.79 L407.50,679.80 L408.50,679.81 L409.50,679.82 L410.50,679.83 L411.50,679.84 L412.50,679.85 L413.50,679.86 L414.50,679.87 L415.50,679.88 L416.50,679.89 L417.50,679.89 L418.50,679.90 L419.50,679.91 L420.50,679.91 L421.50,679.92 L422.50,679.92 L423.50,679.93 L424.50,679.94 L425.50,679.94 L426.50,679.95 L427.50,679.95 L428.50,679.96 L429.50,679.96 L430.50,679.97 L431.50,679.97 L432.50,679.97 L433.50,679.98 L434.50,679.98 L435.50,679.99 L436.50,679.99 L437.50,679.99 L438.50,680.00 L439.50,680.00 L440.50,680.01 L441.50,680.01 L442.50,680.01 L443.50,680.02 L444.50,680.02 L445.50,680.02 L446.50,680.03 L447.50,680.03 L448.50,680.03 L449.50,680.04 L450.50,680.04 L451.50,680.04 L452.50,680.05 L453.50,680.05 L454.50,680.05 L455.50,680.06 L456.50,680.06 L457.50,680.06 L458.50,680.06 L459.50,680.07 L460.50,680.07 L461.50,680.07 L462.50,680.07 L463.50,680.08 L464.50,680.08 L465.50,680.08 L466.50,680.08 L467.50,680.09 L468.50,680.09 L469.50,680.09 L470.50,680.09 L471.50,680.10 L472.50,680.10 L473.50,680.10 L474.50,680.10 L475.50,680.11 L476.50,680.11 L477.50,680.11 L478.50,680.11 L479.50,680.11 L480.50,680.12 L481.50,680.12 L482.50,680.12 L483.50,680.12 L484.50,680.12 L485.50,680.13 L486.50,680.13 L487.50,680.13 L488.50,680.13 L489.50,680.13 L490.50,680.14 L491.50,680.14 L492.50,680.14 L493.50,680.14 L494.50,680.14 L495.50,680.14 L496.50,680.15 L497.50,680.15 L498.50,680.15 L499.50,680.15 L500.50,680.15 L501.50,680.15 L502.50,680.16 L503.50,680.16 L504.50,680.16 L505.50,680.16 L506.50,680.16 L507.50,680.16 L508.50,680.16" fill="none" stroke="#000" stroke-width="3.4" stroke-linejoin="round"/>
<ellipse cx="91" cy="685" rx="1.8" ry="1.6" fill="#000"/>
<ellipse cx="114.25" cy="681.25" rx="1.8" ry="1.6" fill="#000"/>
<ellipse cx="125.5" cy="685" rx="1.8" ry="1.6" fill="#000"/>
<ellipse cx="135.5" cy="688" rx="1.8" ry="1.6" fill="#000"/>
<ellipse cx="159.25" cy="680" rx="1.8" ry="1.6" fill="#000"/>
<ellipse cx="168" cy="678.75" rx="1.8" ry="1.6" fill="#000"/>
<ellipse cx="185.5" cy="679.5" rx="1.8" ry="1.6" fill="#000"/>
<ellipse cx="194.25" cy="671.25" rx="1.8" ry="1.6" fill="#000"/>
<ellipse cx="202.5" cy="665" rx="1.8" ry="1.6" fill="#000"/>
<ellipse cx="207" cy="653.3" rx="1.8" ry="1.6" fill="#000"/>
<ellipse cx="213.5" cy="639.4" rx="1.8" ry="1.6" fill="#000"/>
<ellipse cx="217" cy="626.3" rx="1.8" ry="1.6" fill="#000"/>
<ellipse cx="221.2" cy="613.2" rx="1.8" ry="1.6" fill="#000"/>
<ellipse cx="225.8" cy="599.4" rx="1.8" ry="1.6" fill="#000"/>
<ellipse cx="227.1" cy="586.3" rx="1.8" ry="1.6" fill="#000"/>
<ellipse cx="229.2" cy="573.6" rx="1.8" ry="1.6" fill="#000"/>
<ellipse cx="232.5" cy="560" rx="1.8" ry="1.6" fill="#000"/>
<ellipse cx="234.8" cy="546.9" rx="1.8" ry="1.6" fill="#000"/>
<ellipse cx="239.6" cy="520.2" rx="1.8" ry="1.6" fill="#000"/>
<ellipse cx="258.1" cy="482.4" rx="1.8" ry="1.6" fill="#000"/>
<ellipse cx="262.5" cy="479.8" rx="1.8" ry="1.6" fill="#000"/>
<ellipse cx="264.3" cy="489.3" rx="1.8" ry="1.6" fill="#000"/>
<ellipse cx="272.5" cy="483.9" rx="1.8" ry="1.6" fill="#000"/>
<ellipse cx="277" cy="496.8" rx="1.8" ry="1.6" fill="#000"/>
<ellipse cx="282.3" cy="501.6" rx="1.8" ry="1.6" fill="#000"/>
<ellipse cx="292.9" cy="540.1" rx="1.8" ry="1.6" fill="#000"/>
<ellipse cx="297" cy="552.9" rx="1.8" ry="1.6" fill="#000"/>
<ellipse cx="300.1" cy="565.9" rx="1.8" ry="1.6" fill="#000"/>
<ellipse cx="305.8" cy="578.7" rx="1.8" ry="1.6" fill="#000"/>
<ellipse cx="310.5" cy="592.3" rx="1.8" ry="1.6" fill="#000"/>
<ellipse cx="313.5" cy="605" rx="1.8" ry="1.6" fill="#000"/>
<ellipse cx="318.8" cy="612.1" rx="1.8" ry="1.6" fill="#000"/>
<ellipse cx="321.5" cy="625.5" rx="1.8" ry="1.6" fill="#000"/>
<ellipse cx="329.9" cy="637.4" rx="1.8" ry="1.6" fill="#000"/>
<ellipse cx="342.5" cy="663.5" rx="1.8" ry="1.6" fill="#000"/>
<ellipse cx="374.8" cy="682.8" rx="1.8" ry="1.6" fill="#000"/>
<ellipse cx="385.9" cy="683.4" rx="1.8" ry="1.6" fill="#000"/>
<ellipse cx="399.5" cy="686.5" rx="1.8" ry="1.6" fill="#000"/>
<ellipse cx="411.25" cy="683.75" rx="1.8" ry="1.6" fill="#000"/>
<ellipse cx="423" cy="687" rx="1.8" ry="1.6" fill="#000"/>
<ellipse cx="435.5" cy="687" rx="1.8" ry="1.6" fill="#000"/>
<ellipse cx="457.5" cy="683" rx="1.8" ry="1.6" fill="#000"/>
<ellipse cx="472.5" cy="685.5" rx="1.8" ry="1.6" fill="#000"/>
<ellipse cx="484.5" cy="684.5" rx="1.8" ry="1.6" fill="#000"/>
<ellipse cx="495" cy="683" rx="1.8" ry="1.6" fill="#000"/>
</svg>
</body></html>
